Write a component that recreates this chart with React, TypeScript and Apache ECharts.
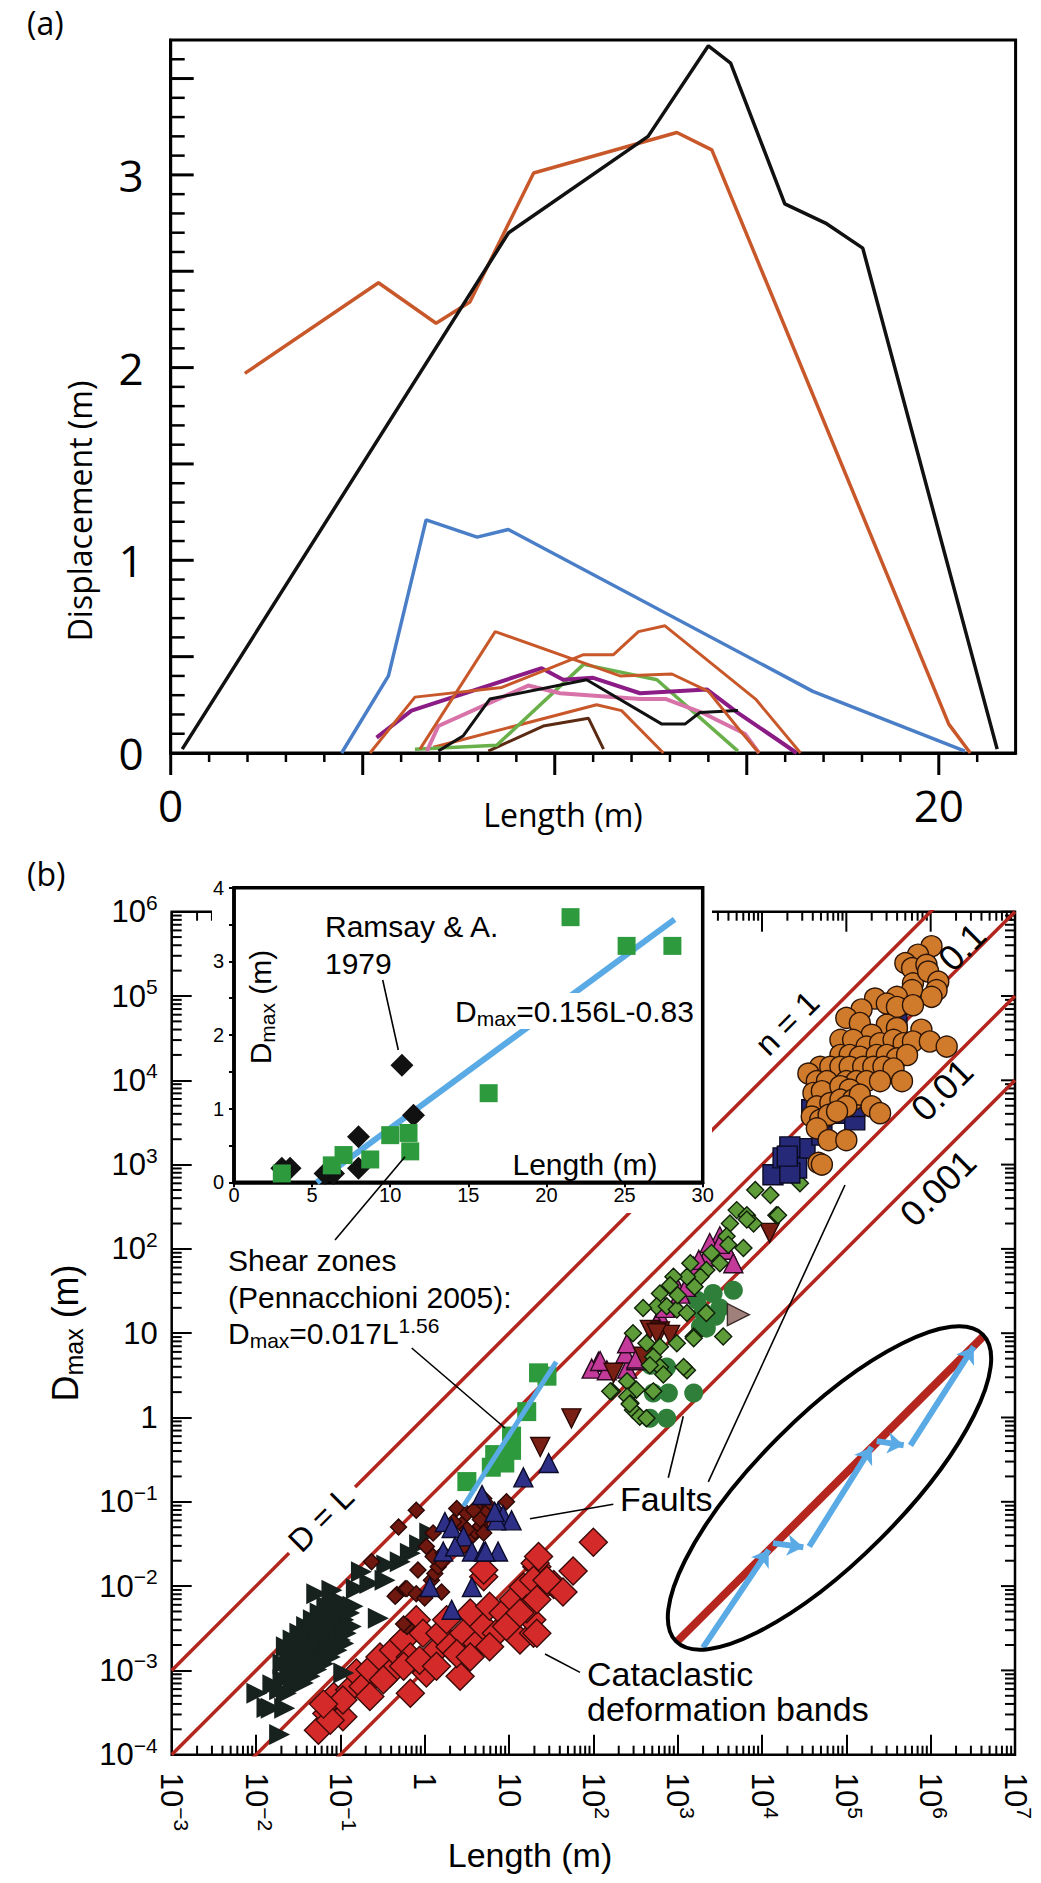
import React, { useEffect, useRef } from "react";
import * as echarts from "echarts";

const FA = '"Open Sans", "DejaVu Sans", sans-serif';
const FB = '"Liberation Sans", Arial, sans-serif';
const K = "#000";

// ================= Panel (a): displacement profiles [length (m), displacement (m)] =================
const aXLabels = [0, 20];
const aYLabels = [0, 1, 2, 3];

const profBlackLarge = [[0.3, 0.02], [8.8, 2.7], [12.43, 3.2], [14.0, 3.67], [14.58, 3.58], [15.99, 2.85], [17.05, 2.75], [18.02, 2.62], [21.52, 0.02]];
const profOrangeLarge = [[1.93, 1.97], [5.41, 2.44], [6.91, 2.23], [7.79, 2.34], [9.45, 3.01], [13.18, 3.22], [14.09, 3.13], [20.26, 0.15], [20.82, 0.0]];
const profBlue = [[4.45, 0.0], [5.67, 0.4], [6.65, 1.21], [7.98, 1.12], [8.79, 1.16], [16.72, 0.32], [20.68, 0.01]];
const profOrangeA = [[6.49, 0.02], [8.45, 0.63], [11.7, 0.4], [13.05, 0.41], [14.0, 0.32], [14.77, 0.13], [15.32, 0.0]];
const profOrangeB = [[5.19, 0.0], [6.36, 0.29], [8.62, 0.34], [9.62, 0.42], [10.75, 0.51], [11.53, 0.51], [12.18, 0.63], [12.87, 0.66], [15.23, 0.28], [16.4, 0.0]];
const profOrangeC = [[6.84, 0.03], [11.09, 0.25], [11.74, 0.22], [12.83, 0.0]];
const profPurple = [[5.36, 0.08], [6.27, 0.22], [9.66, 0.44], [10.22, 0.38], [11.0, 0.39], [12.22, 0.31], [13.96, 0.33], [14.76, 0.21], [15.79, 0.07], [16.3, 0.0]];
const profPink = [[6.67, 0.01], [6.97, 0.14], [9.31, 0.35], [10.14, 0.31], [12.22, 0.28], [12.9, 0.28], [13.83, 0.21], [14.95, 0.1], [15.32, 0.0]];
const profGreen = [[6.36, 0.02], [8.49, 0.04], [10.75, 0.46], [12.66, 0.38], [14.77, 0.01]];
const profBlackSmall = [[6.97, 0.01], [7.62, 0.09], [8.31, 0.28], [10.83, 0.38], [12.79, 0.15], [13.39, 0.15], [13.78, 0.21], [14.77, 0.22]];
const profBrown = [[8.27, 0.01], [9.7, 0.14], [10.88, 0.18], [11.27, 0.02]];

// ================= Panel (b): main log-log plot, values as [log10 L (m), log10 Dmax (m)] =================
const bXExp = [-3, -2, -1, 0, 1, 2, 3, 4, 5, 6, 7];
const bYExp = [-4, -3, -2, -1, 0, 1, 2, 3, 4, 5, 6];
const refRatiosLog = [0, -1, -2, -3]; // D = L, 0.1 L, 0.01 L, 0.001 L

const tealTriangles = [
  [-1.99, -3.27], [-1.8, -3.17], [-1.82, -3.45], [-1.66, -3.45], [-1.72, -3.76], [-1.87, -3.44], [-1.28, -2.09], [-0.81, -2.03],
  [-0.65, -1.97], [-0.47, -1.93], [-0.29, -1.71], [-0.17, -1.61], [-0.06, -1.51], [0.06, -1.37], [-0.55, -2.38], [-0.96, -3.03],
  [-0.75, -1.83], [-0.45, -1.75], [-1.1, -2.05],
  [-1.68, -3.11], [-1.6, -3.03], [-1.52, -2.95], [-1.44, -2.88], [-1.36, -2.8], [-1.28, -2.72], [-1.2, -2.64], [-1.12, -2.56],
  [-1.04, -2.48], [-0.96, -2.4], [-0.89, -2.32], [-0.85, -2.24],
  [-1.68, -2.92], [-1.6, -2.84], [-1.52, -2.76], [-1.44, -2.68], [-1.36, -2.6], [-1.28, -2.52], [-1.2, -2.44], [-1.12, -2.36],
  [-1.04, -2.28], [-0.96, -2.2],
  [-1.64, -2.72], [-1.56, -2.64], [-1.48, -2.56], [-1.4, -2.48], [-1.32, -2.4], [-1.24, -2.32], [-1.16, -2.24], [-1.08, -2.16],
  [-1.72, -3.23], [-1.64, -3.27], [-1.56, -3.19], [-1.48, -3.11], [-1.4, -3.03], [-1.32, -2.95], [-1.24, -2.88], [-1.16, -2.8],
  [-1.08, -2.72], [-1.0, -2.64], [-0.93, -2.56], [-0.87, -2.48],
  [-1.44, -3.15], [-1.36, -3.07], [-1.28, -2.99], [-1.2, -2.92], [-1.12, -2.84], [-1.04, -2.76], [-0.96, -2.68],
  [-1.5, -2.85], [-1.35, -2.7], [-1.25, -2.58], [-1.15, -2.5], [-1.4, -2.9], [-1.55, -3.0]
];
const maroonDiamonds = [
  [-0.63, -1.71], [-0.31, -1.3], [-0.1, -1.1], [-0.33, -2.1], [-0.23, -2.03], [0.38, -1.08], [-0.08, -1.81], [0.1, -1.37],
  [0.02, -1.53], [-0.21, -2.03], [-0.35, -2.12], [-0.1, -2.09], [0.0, -2.14], [0.2, -2.07], [0.08, -1.93], [0.12, -1.85],
  [0.16, -1.77], [0.2, -1.71], [0.44, -1.27], [0.34, -1.24], [0.56, -1.41], [0.6, -1.35], [0.66, -1.29], [0.68, -1.22],
  [0.66, -1.06], [0.7, -0.96], [0.77, -1.06], [0.97, -1.0], [-0.21, -2.48], [0.1, -1.65], [0.22, -1.61], [0.72, -1.14],
  [0.5, -1.14], [0.58, -1.1], [0.5, -1.33], [0.66, -1.21], [0.46, -1.53], [0.7, -1.37], [-0.25, -2.45]
];
const navyTriangles = [
  [0.24, -1.24], [0.32, -1.31], [0.46, -1.41], [0.22, -1.59], [0.36, -1.53], [0.56, -1.59], [0.7, -1.59], [0.87, -1.59],
  [0.56, -2.01], [0.06, -2.01], [0.32, -2.28], [0.87, -1.12], [0.93, -1.16], [1.03, -1.22], [0.85, -1.22], [0.68, -0.92],
  [1.17, -0.71], [1.47, -0.54], [0.83, -1.12], [0.72, -1.59]
];
const shearSquares = [[0.5, -0.76], [0.79, -0.59], [0.83, -0.44], [0.95, -0.54], [1.03, -0.39], [1.03, -0.22], [1.21, 0.07], [1.35, 0.53], [1.45, 0.49], [0.88, -0.5]];
const shearFitLine = [[0.46, -1.05], [1.56, 0.66]];
const cataclasticBands = [
  [-1.26, -3.71], [-1.16, -3.51], [-1.08, -3.31], [-0.97, -3.55], [-0.89, -3.23], [-0.81, -3.03], [-0.73, -3.19], [-0.65, -2.99],
  [-0.53, -2.84], [-0.41, -3.03], [-0.37, -2.76], [-0.25, -2.64], [-0.17, -3.27], [-0.17, -2.84], [-0.1, -2.4], [-0.02, -2.56],
  [0.02, -3.03], [0.1, -2.8], [0.18, -2.56], [0.26, -2.4], [0.3, -2.72], [0.42, -3.07], [0.46, -2.56], [0.54, -2.32],
  [0.62, -2.68], [0.7, -2.48], [0.77, -2.24], [0.85, -2.56], [0.93, -2.32], [1.05, -2.16], [1.13, -2.64], [1.17, -2.01],
  [1.29, -2.56], [1.33, -1.77], [1.41, -2.01], [0.7, -1.89], [1.27, -2.4], [2.0, -1.48], [1.76, -1.82], [1.31, -1.73],
  [0.7, -1.81], [1.53, -1.98], [1.29, -1.93], [1.33, -2.56], [1.21, -2.27], [1.64, -2.07], [-0.65, -3.31], [-0.49, -3.11],
  [-0.25, -2.95], [-0.06, -2.88], [0.14, -2.95], [0.38, -2.8], [0.54, -2.84], [0.77, -2.72], [0.97, -2.48], [1.13, -2.32],
  [1.33, -2.16], [1.45, -1.93], [-0.97, -3.35], [-1.12, -3.59], [-1.2, -3.4], [1.35, -1.65]
];
const faultGreenDiamonds = [
  [3.7, 2.46], [3.82, 2.4], [3.9, 2.3], [3.62, 2.3], [3.58, 2.15], [3.78, 2.01], [3.5, 1.83], [3.34, 1.75], [3.27, 1.67],
  [3.15, 1.83], [3.11, 1.67], [2.95, 1.67], [2.91, 1.57], [2.79, 1.47], [2.75, 1.32], [2.87, 1.32], [2.59, 1.3], [2.99, 1.28],
  [3.11, 1.24], [3.34, 1.24], [3.19, 0.96], [2.99, 0.88], [2.79, 0.84], [2.63, 0.88], [2.47, 1.0], [3.54, 0.96], [2.71, 0.72],
  [2.79, 0.6], [3.11, 0.56], [2.4, 0.43], [2.22, 0.31], [2.51, 0.33], [2.71, 0.31], [2.4, 0.25], [2.44, 0.17], [2.47, 0.09],
  [2.55, 0.01], [2.63, -0.01], [2.83, 0.51], [2.67, 0.62], [4.17, 2.4], [4.45, 2.78], [4.1, 2.64], [3.92, 2.7], [4.19, 2.4],
  [3.82, 2.35], [2.2, 0.31], [2.43, 0.16], [3.07, 0.6], [3.19, 0.94], [3.0, 1.45], [3.2, 1.55], [3.4, 1.95], [3.6, 2.05]
];
const faultGreenCircles = [
  [2.67, -0.01], [2.87, -0.01], [2.71, 0.29], [2.89, 0.29], [3.19, 0.29], [2.87, 0.6], [2.68, 0.62], [3.34, 1.06], [3.5, 1.3],
  [3.66, 1.51], [3.42, 1.47], [3.23, 1.39], [3.27, 1.08], [3.45, 1.2], [3.3, 1.25]
];
const faultMagentaTriangles = [
  [2.06, 0.66], [1.98, 0.58], [2.16, 0.56], [2.4, 0.58], [2.38, 0.76], [2.4, 0.88], [2.51, 0.68], [2.79, 1.2], [3.03, 1.47],
  [3.19, 1.79], [3.34, 1.91], [3.5, 2.15], [3.58, 1.99], [3.66, 1.83], [3.38, 2.07], [3.25, 1.87], [2.95, 1.63], [2.75, 1.12],
  [2.08, 0.67], [2.51, 0.7], [3.5, 2.06], [2.85, 1.3], [3.1, 1.55]
];
const faultMaroonDownTriangles = [[1.74, -0.01], [1.37, -0.35], [2.24, 0.53], [2.67, 1.04], [2.79, 1.02], [2.91, 0.98], [2.59, 0.72], [4.09, 2.19], [2.75, 1.0]];
const faultGreyTriangles = [[3.72, 1.22]];
const faultNavySquares = [
  [4.13, 2.88], [4.25, 3.08], [4.39, 3.19], [4.51, 3.19], [4.33, 3.21], [4.41, 2.96], [4.33, 2.9], [4.71, 3.35], [4.59, 3.65],
  [4.69, 3.57], [4.94, 3.61], [5.1, 3.53], [5.1, 3.69], [5.6, 4.66], [4.3, 3.1]
];
const faultOrangeCircles = [
  [6.01, 5.59], [5.85, 5.49], [5.7, 5.39], [5.78, 5.33], [5.95, 5.37], [5.79, 5.15], [5.78, 5.07], [5.97, 5.29], [6.09, 5.17],
  [6.07, 5.07], [6.01, 4.99], [5.6, 4.99], [5.34, 4.97], [5.48, 4.91], [5.6, 4.87], [5.79, 4.89], [5.18, 4.84], [5.0, 4.74],
  [5.16, 4.68], [5.48, 4.66], [5.6, 4.62], [5.89, 4.6], [5.3, 4.54], [4.93, 4.48], [5.08, 4.48], [5.24, 4.4], [5.4, 4.44],
  [5.56, 4.48], [5.68, 4.44], [5.79, 4.46], [5.99, 4.46], [6.19, 4.4], [4.93, 4.3], [5.04, 4.3], [5.16, 4.28], [5.36, 4.3],
  [5.48, 4.3], [5.6, 4.26], [5.72, 4.3], [4.69, 4.16], [4.81, 4.16], [4.93, 4.16], [5.04, 4.16], [5.2, 4.16], [5.32, 4.16],
  [5.44, 4.16], [5.56, 4.14], [4.55, 4.08], [4.65, 3.99], [4.77, 3.99], [5.0, 3.99], [5.12, 3.99], [5.24, 3.99], [5.4, 3.99],
  [5.66, 3.99], [4.61, 3.85], [4.71, 3.87], [4.93, 3.93], [5.04, 3.89], [4.65, 3.69], [4.81, 3.73], [4.93, 3.77], [5.08, 3.77],
  [5.16, 3.83], [5.0, 3.69], [4.59, 3.57], [4.69, 3.53], [4.79, 3.59], [4.89, 3.63], [4.65, 3.43], [4.79, 3.29], [5.0, 3.29],
  [5.3, 3.69], [5.4, 3.61], [4.67, 3.02], [4.71, 3.0]
];
// schematic (growth path) inside the ellipse, same log units
const schematicLine = [[2.99, -2.66], [6.62, 0.96]];
const schematicArrows = [
  [[3.3, -2.73], [4.08, -1.57]],
  [[4.13, -1.49], [4.49, -1.54]],
  [[4.56, -1.53], [5.3, -0.35]],
  [[5.36, -0.28], [5.68, -0.33]],
  [[5.76, -0.33], [6.51, 0.84]]
];

// ================= Inset: linear axes [L (m), Dmax (m)] =================
const insetRamsay = [[3.06, 0.19], [3.59, 0.19], [5.83, 0.12], [6.37, 0.12], [7.97, 0.62], [7.97, 0.19], [10.75, 1.59], [11.49, 0.91]];
const insetShear = [[3.06, 0.12], [6.26, 0.23], [7.01, 0.37], [8.72, 0.31], [10.0, 0.64], [11.17, 0.67], [11.28, 0.42], [16.3, 1.21], [21.54, 3.6], [25.13, 3.21], [28.06, 3.21]];
const insetFit = [[5.3, 0], [28.2, 3.57]];

function powLabel(v: number) {
  const e = Math.round(v);
  if (e === 0) return "{b|1}";
  if (e === 1) return "{b|10}";
  return `{b|10}{s|${e < 0 ? "\u2212" + -e : e}}`;
}
const richPow = {
  b: { fontSize: 31, fontFamily: FB, color: K, lineHeight: 40 },
  s: { fontSize: 21, fontFamily: FB, color: K, verticalAlign: "top" }
};

function buildOption(): any {
  const lineA = (data: number[][], color: string, width = 3.5) => ({
    type: "line", data, xAxisIndex: 0, yAxisIndex: 0, showSymbol: false, symbol: "none",
    lineStyle: { color, width }, itemStyle: { color }, silent: true, z: 3
  });
  const sc = (data: number[][], symbol: string, size: number, color: string, border: string | null, rotate = 0, z = 4) => ({
    type: "scatter", data, xAxisIndex: 1, yAxisIndex: 1, symbol, symbolSize: size, symbolRotate: rotate,
    itemStyle: { color, opacity: 1, borderColor: border || color, borderWidth: border ? 1.4 : 0 }, silent: true, z
  });
  const txt = (text: string, x: number, y: number, fontSize: number, extra: any = {}, rot = 0, fam = FB) => ({
    type: "text", x, y, rotation: rot, z: 20, silent: true,
    style: { text, fill: K, fontSize, fontFamily: fam, align: extra.align || "left", verticalAlign: "middle", ...extra.style }
  });
  const seg = (x1: number, y1: number, x2: number, y2: number) => ({
    type: "line", z: 20, silent: true, shape: { x1, y1, x2, y2 }, style: { stroke: K, lineWidth: 1.6 }
  });
  const richD = (fs: number, sub: number) => ({
    a: { fontSize: fs, fontFamily: FB, color: K, lineHeight: fs + 6 },
    sub: { fontSize: sub, fontFamily: FB, color: K, verticalAlign: "bottom" },
    sup: { fontSize: sub, fontFamily: FB, color: K, verticalAlign: "top" }
  });

  return {
    animation: false,
    backgroundColor: "#fff",
    textStyle: { fontFamily: FB },
    grid: [
      { left: 170.7, top: 40, width: 844.9, height: 713, show: true, borderColor: K, borderWidth: 3, backgroundColor: "transparent", outerBoundsMode: "none" },
      { left: 171.7, top: 911.7, width: 843.3, height: 843, show: true, borderColor: K, borderWidth: 2.5, backgroundColor: "transparent", outerBoundsMode: "none" },
      { left: 234, top: 887.7, width: 468.7, height: 294.6, show: true, borderColor: K, borderWidth: 3.5, backgroundColor: "transparent", z: 10, outerBoundsMode: "none" }
    ],
    xAxis: [
      {
        type: "value", gridIndex: 0, min: 0, max: 22, interval: 5, splitLine: { show: false },
        axisLine: { show: true, onZero: false, lineStyle: { color: K, width: 3 } },
        axisTick: { show: false },
        axisLabel: { customValues: aXLabels, formatter: (v: number) => (aXLabels.includes(v) ? String(v) : ""), fontSize: 44, fontFamily: FA, color: K, margin: 30 }
      },
      {
        type: "value", gridIndex: 1, min: -3, max: 7, interval: 1, splitLine: { show: false },
        axisLine: { show: false, onZero: false },
        axisTick: { show: true, inside: true, length: 20, lineStyle: { color: K, width: 2 } },
        axisLabel: { rotate: -90, margin: 18, formatter: powLabel, rich: richPow, color: K }
      },
      {
        type: "value", gridIndex: 2, min: 0, max: 30, interval: 5, splitLine: { show: false }, z: 11,
        axisLine: { show: true, onZero: false, lineStyle: { color: K, width: 3.5 } },
        axisTick: { show: true, inside: false, length: 5, lineStyle: { color: K, width: 2 } },
        axisLabel: { fontSize: 20, fontFamily: FB, color: K, margin: 3 }
      }
    ],
    yAxis: [
      {
        type: "value", gridIndex: 0, min: 0, max: 3.7, interval: 0.5, splitLine: { show: false },
        axisLine: { show: true, onZero: false, lineStyle: { color: K, width: 3 } },
        axisTick: { show: false },
        axisLabel: { customValues: aYLabels, formatter: (v: number) => (aYLabels.includes(v) ? String(v) : ""), fontSize: 44, fontFamily: FA, color: K, margin: 27 }
      },
      {
        type: "value", gridIndex: 1, min: -4, max: 6, interval: 1, splitLine: { show: false },
        axisLine: { show: false, onZero: false },
        axisTick: { show: true, inside: true, length: 20, lineStyle: { color: K, width: 2 } },
        axisLabel: { margin: 14, formatter: powLabel, rich: richPow, color: K }
      },
      {
        type: "value", gridIndex: 2, min: 0, max: 4, interval: 0.5, splitLine: { show: false }, z: 11,
        axisLine: { show: true, onZero: false, lineStyle: { color: K, width: 3.5 } },
        axisTick: { show: true, inside: false, length: 5, lineStyle: { color: K, width: 2 } },
        axisLabel: { formatter: (v: number) => (Number.isInteger(v) ? String(v) : ""), fontSize: 20, fontFamily: FB, color: K, margin: 10 }
      }
    ],
    series: [
      // ---- panel (a)
      lineA(profBrown, "#5a2a12", 3),
      lineA(profOrangeC, "#c8582a", 3),
      lineA(profGreen, "#6ab04a", 3.5),
      lineA(profPink, "#d873aa", 4),
      lineA(profPurple, "#8b1c85", 4),
      lineA(profBlackSmall, "#111", 3),
      lineA(profOrangeB, "#c8582a", 3),
      lineA(profOrangeA, "#c8582a", 3),
      lineA(profBlue, "#4a7fc8", 3.5),
      lineA(profOrangeLarge, "#c8582a", 3.5),
      lineA(profBlackLarge, "#111", 3.5),
      // ---- panel (b) reference lines D = cL
      ...refRatiosLog.map((r) => ({
        type: "line", xAxisIndex: 1, yAxisIndex: 1, data: [[-3, -3 + r], [7, 7 + r]], showSymbol: false, symbol: "none",
        lineStyle: { color: "#b3261e", width: 3.5 }, silent: true, z: 2
      })),
      sc(cataclasticBands, "diamond", 28, "#d42a2a", "#3a0a08", 0, 3),
      sc(tealTriangles, "triangle", 21, "#17211e", null, -90, 4),
      sc(maroonDiamonds, "diamond", 16, "#6e1810", "#2a0806", 0, 4),
      sc(navyTriangles, "triangle", 19, "#2e3088", "#0a0a2a", 0, 4),
      sc(shearSquares, "rect", 19, "#2e9a3e", null, 0, 4),
      sc(faultGreenCircles, "circle", 19, "#2f7f3a", null, 0, 4),
      sc(faultMagentaTriangles, "triangle", 19, "#c43a9a", "#2a0a20", 0, 4),
      sc(faultMaroonDownTriangles, "triangle", 19, "#7a1f14", "#2a0806", 180, 4),
      sc(faultGreyTriangles, "triangle", 22, "#a0807a", "#3a2a28", -90, 4),
      sc(faultGreenDiamonds, "diamond", 17, "#5e9c3a", "#0f1f08", 0, 5),
      sc(faultNavySquares, "rect", 20, "#262878", "#0a0a22", 0, 5),
      sc(faultOrangeCircles, "circle", 21, "#d07a2c", "#2a1406", 0, 6),
      {
        type: "line", xAxisIndex: 1, yAxisIndex: 1, data: shearFitLine, showSymbol: false, symbol: "none",
        lineStyle: { color: "#5aaae6", width: 5 }, silent: true, z: 7
      },
      {
        type: "line", xAxisIndex: 1, yAxisIndex: 1, data: schematicLine, showSymbol: false, symbol: "none",
        lineStyle: { color: "#b5261e", width: 8 }, silent: true, z: 7
      },
      {
        type: "lines", coordinateSystem: "cartesian2d", xAxisIndex: 1, yAxisIndex: 1, silent: true, z: 8,
        data: schematicArrows.map((c) => ({ coords: c })),
        symbol: ["none", "arrow"], symbolSize: 16,
        lineStyle: { color: "#5aaae6", width: 6, opacity: 1, curveness: 0 }
      },
      // ---- inset
      {
        type: "line", xAxisIndex: 2, yAxisIndex: 2, data: insetFit, showSymbol: false, symbol: "none",
        lineStyle: { color: "#5aaae6", width: 6 }, silent: true, z: 12
      },
      {
        type: "scatter", xAxisIndex: 2, yAxisIndex: 2, data: insetRamsay, symbol: "diamond", symbolSize: 23,
        itemStyle: { color: "#111", opacity: 1 }, silent: true, z: 13
      },
      {
        type: "scatter", xAxisIndex: 2, yAxisIndex: 2, data: insetShear, symbol: "rect", symbolSize: 18,
        itemStyle: { color: "#2e9a3e", opacity: 1 }, silent: true, z: 14
      }
    ],
    graphic: {
      elements: [
        // white panel behind the inset
        { type: "rect", z: 9, silent: true, shape: { x: 212, y: 880, width: 500, height: 333 }, style: { fill: "#fff" } },
        // panel letters and panel (a) titles
        txt("(a)", 27, 22, 32, {}, 0, FA),
        txt("(b)", 27, 873, 32, {}, 0, FA),
        txt("Displacement (m)", 79, 511, 32, { align: "center" }, Math.PI / 2, FA),
        txt("Length (m)", 563, 814, 32, { align: "center" }, 0, FA),
        // panel (b) titles
        txt("Length (m)", 530, 1855, 34, { align: "center" }),
        {
          type: "text", x: 65, y: 1333, rotation: Math.PI / 2, z: 20, silent: true,
          style: { text: "{a|D}{sub|max}{a| (m)}", rich: richD(36, 25), align: "center", verticalAlign: "middle", fill: K }
        },
        // inset texts
        {
          type: "text", x: 260, y: 1007, rotation: Math.PI / 2, z: 20, silent: true,
          style: { text: "{a|D}{sub|max}{a| (m)}", rich: richD(30, 21), align: "center", verticalAlign: "middle", fill: K }
        },
        txt("Ramsay & A.", 325, 926, 30),
        txt("1979", 325, 963, 30),
        {
          type: "text", x: 453, y: 1011, z: 20, silent: true,
          style: { text: "{a|D}{sub|max}{a|=0.156L-0.83}", rich: richD(30, 21), align: "left", verticalAlign: "middle", fill: K, backgroundColor: "#fff", padding: [0, 2] }
        },
        txt("Length (m)", 585, 1164, 30, { align: "center" }),
        // shear zone annotation
        txt("Shear zones", 228, 1260, 30),
        txt("(Pennacchioni 2005):", 228, 1297, 30),
        {
          type: "text", x: 228, y: 1333, z: 20, silent: true,
          style: { text: "{a|D}{sub|max}{a|=0.017L}{sup|1.56}", rich: richD(30, 21), align: "left", verticalAlign: "middle", fill: K }
        },
        // reference line labels
        txt("D = L", 321, 1519, 32, { align: "center", style: { backgroundColor: "#fff", padding: [0, 8] } }, Math.PI / 4),
        txt("n = 1", 787, 1023, 33, { align: "center" }, Math.PI / 4),
        txt("0.1", 962, 947, 36, { align: "center" }, Math.PI / 4),
        txt("0.01", 942, 1090, 36, { align: "center" }, Math.PI / 4),
        txt("0.001", 938, 1188, 36, { align: "center" }, Math.PI / 4),
        txt("Faults", 620, 1499, 34),
        txt("Cataclastic", 587, 1674, 34),
        txt("deformation bands", 587, 1709, 34),
        // leader lines
        seg(382.7, 980, 398.3, 1050),
        seg(335, 1240, 405, 1156.7),
        seg(411.7, 1348, 505, 1428),
        seg(613.3, 1504.3, 530, 1518.7),
        seg(668.3, 1477.7, 683.3, 1416.2),
        seg(708.3, 1481.8, 845, 1185),
        seg(545, 1654, 580, 1672.4),
        // schematic ellipse
        {
          type: "ellipse", x: 829.5, y: 1488, rotation: Math.PI / 4, z: 20, silent: true,
          shape: { cx: 0, cy: 0, rx: 217, ry: 72 }, style: { fill: "none", stroke: K, lineWidth: 4 }
        }
      ]
    }
  };
}

// Tick marks positioned through the chart's own scales (convertToPixel)
function buildTicks(chart: any): any[] {
  const els: any[] = [];
  const tick = (gridIndex: number, x: number, y: number, dx: number, dy: number, w: number) => {
    const p = chart.convertToPixel({ gridIndex }, [x, y]);
    if (!p) return;
    els.push({ type: "line", z: 1, silent: true, shape: { x1: p[0], y1: p[1], x2: p[0] + dx, y2: p[1] + dy }, style: { stroke: K, lineWidth: w } });
  };
  // panel (a): x every 1 m (long every 5), outward; y every 0.1 m (long every 0.5), inward
  for (let i = 0; i <= 21; i++) tick(0, i, 0, 0, i % 5 === 0 ? 22 : 9, i % 5 === 0 ? 3 : 2.5);
  for (let j = 1; j <= 36; j++) tick(0, 0, j / 10, j % 5 === 0 ? 23 : 14, 0, j % 5 === 0 ? 3 : 2.5);
  // panel (b): log minor ticks on all four sides, mirrored majors on top and right
  const minor: number[] = [];
  for (let d = -4; d < 7; d++) for (const k of [2, 3, 4, 5, 6, 7, 8, 9]) minor.push(d + Math.log10(k));
  minor.filter((v) => v > -4 && v < 6).forEach((v) => { tick(1, -3, v, 10, 0, 2); tick(1, 7, v, -10, 0, 2); });
  minor.filter((v) => v > -3 && v < 7).forEach((v) => { tick(1, v, -4, 0, -9, 2); tick(1, v, 6, 0, 9, 2); });
  bYExp.forEach((e) => tick(1, 7, e, -14, 0, 2));
  bXExp.forEach((e) => tick(1, e, 6, 0, 20, 2));
  return els;
}

export default function App() {
  const ref = useRef<HTMLDivElement>(null);
  useEffect(() => {
    document.body.style.margin = "0";
    const chart = echarts.init(ref.current as HTMLDivElement, undefined, { renderer: "svg", width: 1041, height: 1883 });
    const option = buildOption();
    chart.setOption(option);
    const ticks = buildTicks(chart);
    option.graphic.elements = [...ticks, ...option.graphic.elements];
    chart.setOption(option, true);
    return () => chart.dispose();
  }, []);
  return <div ref={ref} style={{ width: 1041, height: 1883 }} />;
}
